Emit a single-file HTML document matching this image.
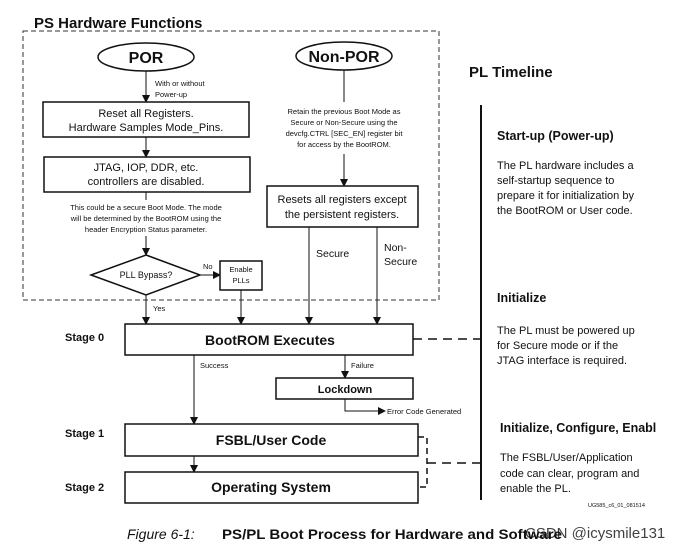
<!DOCTYPE html>
<html><head><style>
body{margin:0;background:#fff;}
svg{display:block;}
text{font-family:"Liberation Sans",sans-serif;fill:#111;}
</style></head><body>
<svg width="692" height="550" viewBox="0 0 692 550" xmlns="http://www.w3.org/2000/svg">
<defs>
<marker id="a" markerWidth="8" markerHeight="8" refX="7" refY="4" orient="auto" markerUnits="userSpaceOnUse"><path d="M0,0 L8,4 L0,8 z" fill="#111"/></marker>
</defs>
<text x="34" y="28" font-size="15" font-weight="bold">PS Hardware Functions</text>
<rect x="23" y="31" width="416" height="269" fill="none" stroke="#333" stroke-dasharray="5,3"/>
<ellipse cx="146" cy="57" rx="48" ry="14" fill="#fff" stroke="#111" stroke-width="1.5"/>
<text x="146" y="63" font-size="16" font-weight="bold" text-anchor="middle">POR</text>
<ellipse cx="344" cy="56" rx="48" ry="14" fill="#fff" stroke="#111" stroke-width="1.5"/>
<text x="344" y="62" font-size="16" font-weight="bold" text-anchor="middle">Non-POR</text>
<line x1="146" y1="71" x2="146" y2="102" stroke="#111" marker-end="url(#a)"/>
<text x="155" y="86" font-size="7.5">With or without</text>
<text x="155" y="97" font-size="7.5">Power-up</text>
<rect x="43" y="102" width="206" height="35" fill="#fff" stroke="#111" stroke-width="1.5"/>
<text x="146" y="117" font-size="11" text-anchor="middle">Reset all Registers.</text>
<text x="146" y="131" font-size="11" text-anchor="middle">Hardware Samples Mode_Pins.</text>
<line x1="146" y1="137" x2="146" y2="157" stroke="#111" marker-end="url(#a)"/>
<rect x="44" y="157" width="206" height="35" fill="#fff" stroke="#111" stroke-width="1.5"/>
<text x="146" y="171" font-size="11" text-anchor="middle">JTAG, IOP, DDR, etc.</text>
<text x="146" y="185" font-size="11" text-anchor="middle">controllers are disabled.</text>
<line x1="146" y1="192" x2="146" y2="200" stroke="#111"/>
<text x="146" y="210" font-size="7.5" text-anchor="middle">This could be a secure Boot Mode. The mode</text>
<text x="146" y="221" font-size="7.5" text-anchor="middle">will be determined by the BootROM using the</text>
<text x="146" y="232" font-size="7.5" text-anchor="middle">header Encryption Status parameter.</text>
<line x1="146" y1="236" x2="146" y2="255" stroke="#111" marker-end="url(#a)"/>
<polygon points="146,255 200,275 146,295 91,275" fill="#fff" stroke="#111" stroke-width="1.5"/>
<text x="146" y="278" font-size="9" text-anchor="middle">PLL Bypass?</text>
<line x1="200" y1="275" x2="220" y2="275" stroke="#111" marker-end="url(#a)"/>
<text x="203" y="269" font-size="7.5">No</text>
<rect x="220" y="261" width="42" height="29" fill="#fff" stroke="#111" stroke-width="1.5"/>
<text x="241" y="272" font-size="7.5" text-anchor="middle">Enable</text>
<text x="241" y="283" font-size="7.5" text-anchor="middle">PLLs</text>
<line x1="241" y1="290" x2="241" y2="324" stroke="#111" marker-end="url(#a)"/>
<line x1="146" y1="295" x2="146" y2="324" stroke="#111" marker-end="url(#a)"/>
<text x="153" y="311" font-size="7.5">Yes</text>
<line x1="344" y1="70" x2="344" y2="102" stroke="#111"/>
<text x="344" y="114" font-size="7.5" text-anchor="middle">Retain the previous Boot Mode as</text>
<text x="344" y="125" font-size="7.5" text-anchor="middle">Secure or Non-Secure using the</text>
<text x="344" y="136" font-size="7.5" text-anchor="middle">devcfg.CTRL [SEC_EN] register bit</text>
<text x="344" y="147" font-size="7.5" text-anchor="middle">for access by the BootROM.</text>
<line x1="344" y1="154" x2="344" y2="186" stroke="#111" marker-end="url(#a)"/>
<rect x="267" y="186" width="151" height="41" fill="#fff" stroke="#111" stroke-width="1.5"/>
<text x="342" y="203" font-size="11" text-anchor="middle">Resets all registers except</text>
<text x="342" y="218" font-size="11" text-anchor="middle">the persistent registers.</text>
<line x1="309" y1="227" x2="309" y2="324" stroke="#111" marker-end="url(#a)"/>
<line x1="377" y1="227" x2="377" y2="324" stroke="#111" marker-end="url(#a)"/>
<text x="316" y="257" font-size="10.5">Secure</text>
<text x="384" y="251" font-size="10.5">Non-</text>
<text x="384" y="265" font-size="10.5">Secure</text>
<text x="65" y="341" font-size="11" font-weight="bold">Stage 0</text>
<rect x="125" y="324" width="288" height="31" fill="#fff" stroke="#111" stroke-width="1.5"/>
<text x="270" y="345" font-size="14" font-weight="bold" text-anchor="middle">BootROM Executes</text>
<line x1="413" y1="339" x2="481" y2="339" stroke="#111" stroke-width="1.5" stroke-dasharray="9,6"/>
<line x1="194" y1="355" x2="194" y2="424" stroke="#111" marker-end="url(#a)"/>
<text x="200" y="368" font-size="7.5">Success</text>
<line x1="345" y1="355" x2="345" y2="378" stroke="#111" marker-end="url(#a)"/>
<text x="351" y="368" font-size="7.5">Failure</text>
<rect x="276" y="378" width="137" height="21" fill="#fff" stroke="#111" stroke-width="1.5"/>
<text x="345" y="393" font-size="11" font-weight="bold" text-anchor="middle">Lockdown</text>
<polyline points="345,399 345,411 385,411" fill="none" stroke="#111" marker-end="url(#a)"/>
<text x="387" y="414" font-size="7.5">Error Code Generated</text>
<text x="65" y="437" font-size="11" font-weight="bold">Stage 1</text>
<rect x="125" y="424" width="293" height="32" fill="#fff" stroke="#111" stroke-width="1.5"/>
<text x="271" y="445" font-size="14" font-weight="bold" text-anchor="middle">FSBL/User Code</text>
<line x1="194" y1="456" x2="194" y2="472" stroke="#111" marker-end="url(#a)"/>
<text x="65" y="491" font-size="11" font-weight="bold">Stage 2</text>
<rect x="125" y="472" width="293" height="31" fill="#fff" stroke="#111" stroke-width="1.5"/>
<text x="271" y="492" font-size="14" font-weight="bold" text-anchor="middle">Operating System</text>
<polyline points="418,437 427,437 427,487 418,487" fill="none" stroke="#111" stroke-width="1.5" stroke-dasharray="6,4"/>
<line x1="427" y1="463" x2="481" y2="463" stroke="#111" stroke-width="1.5" stroke-dasharray="9,6"/>
<text x="469" y="77" font-size="15" font-weight="bold">PL Timeline</text>
<line x1="481" y1="105" x2="481" y2="500" stroke="#111" stroke-width="2"/>
<text x="497" y="140" font-size="12.5" font-weight="bold">Start-up (Power-up)</text>
<text x="497" y="169" font-size="11">The PL hardware includes a</text>
<text x="497" y="184" font-size="11">self-startup sequence to</text>
<text x="497" y="199" font-size="11">prepare it for initialization by</text>
<text x="497" y="214" font-size="11">the BootROM or User code.</text>
<text x="497" y="302" font-size="12.5" font-weight="bold">Initialize</text>
<text x="497" y="334" font-size="11">The PL must be powered up</text>
<text x="497" y="349" font-size="11">for Secure mode or if the</text>
<text x="497" y="364" font-size="11">JTAG interface is required.</text>
<text x="500" y="432" font-size="12.5" font-weight="bold">Initialize, Configure, Enabl</text>
<text x="500" y="461" font-size="11">The FSBL/User/Application</text>
<text x="500" y="477" font-size="11">code can clear, program and</text>
<text x="500" y="492" font-size="11">enable the PL.</text>
<text x="588" y="507" font-size="5.5">UG585_c6_01_081514</text>
<text x="127" y="539" font-size="14" font-style="italic" fill="#222">Figure 6-1:</text>
<text x="222" y="539" font-size="14" font-weight="bold" textLength="340" lengthAdjust="spacingAndGlyphs">PS/PL Boot Process for Hardware and Software</text>
<text x="525" y="538" font-size="15" fill="#999" opacity="0.8">CSDN @icysmile131</text>
</svg>
</body></html>
